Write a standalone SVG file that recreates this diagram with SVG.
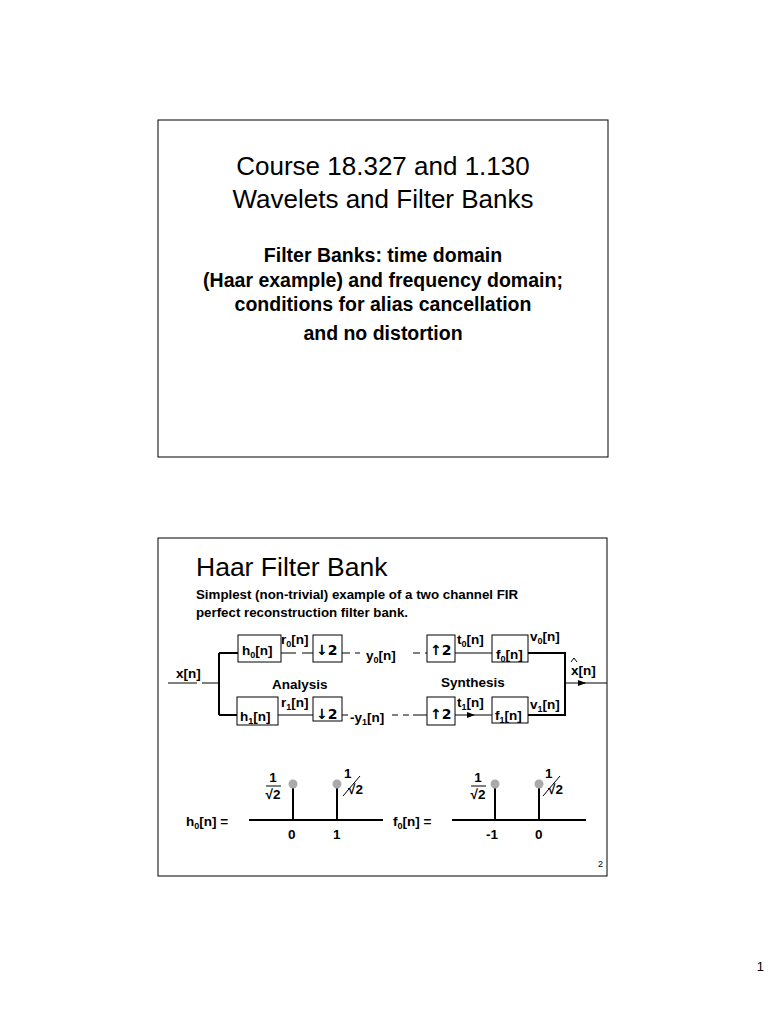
<svg xmlns="http://www.w3.org/2000/svg" width="768" height="1024" viewBox="0 0 768 1024">
<style>
text{font-family:"Liberation Sans",Arial,sans-serif;fill:#000}
.b{font-weight:bold}
.bx{fill:#fff;stroke:#000;stroke-width:1}
.ln{stroke:#000;stroke-width:1;fill:none}
.tk{stroke:#000;stroke-width:2;fill:none}
.lb{font-size:13.5px;font-weight:bold}
.sb{font-size:9px;font-weight:bold}
.arw{font-family:"DejaVu Sans",sans-serif;font-size:14px;font-weight:bold}
</style>
<defs><marker id="ar" markerWidth="8" markerHeight="8" refX="7" refY="4" orient="auto" markerUnits="userSpaceOnUse"><path d="M0,1 L8,4 L0,7 z" fill="#000"/></marker></defs>
<rect width="768" height="1024" fill="#fff"/>
<g id="slide1">
<rect x="158" y="120" width="450" height="337" fill="#fff" stroke="#000"/>
<text x="383" y="175" font-size="26" text-anchor="middle">Course 18.327 and 1.130</text>
<text x="383" y="208" font-size="26" text-anchor="middle">Wavelets and Filter Banks</text>
<text x="383" y="262" font-size="19.5" text-anchor="middle" class="b">Filter Banks: time domain</text>
<text x="383" y="287" font-size="19.5" text-anchor="middle" class="b">(Haar example) and frequency domain;</text>
<text x="383" y="311" font-size="19.5" text-anchor="middle" class="b">conditions for alias cancellation</text>
<text x="383" y="340" font-size="19.5" text-anchor="middle" class="b">and no distortion</text>
</g>
<g id="slide2">
<rect x="158" y="538" width="449" height="338" fill="#fff" stroke="#000"/>
<text x="196" y="576" font-size="26.5">Haar Filter Bank</text>
<text x="196" y="599" font-size="13.3" class="b">Simplest (non-trivial) example of a two channel FIR</text>
<text x="196" y="617" font-size="13.3" class="b">perfect reconstruction filter bank.</text>
<text x="598" y="867" font-size="9">2</text>
</g>
<g id="connectors">
<path class="ln" d="M168,683 H197 M202,683 H219"/>
<path class="tk" d="M219,653 V715 M219,653 H238 M219,715 H237"/>
<path class="ln" d="M281,653 H296 M302,653 H313 M342,653 H350 M355,653 H360 M413,653 H420 M425,653 H432"/>
<path class="ln" d="M455,653 H492"/>
<path class="ln" d="M278,715 H313 M342,715 H348 M392,715 H398 M403,715 H409 M413,715 H427"/>
<path class="ln" d="M455,715 H474" marker-end="url(#ar)"/>
<path class="ln" d="M474,715 H492"/>
<path class="tk" d="M528,653 H565 V715 H528"/>
<path class="ln" d="M565,683 H585" marker-end="url(#ar)"/>
<path class="ln" d="M583,683 H607"/>
</g>
<g id="h0"><rect class="bx" x="238" y="635" width="43" height="27"/><text class="lb" x="242" y="655">h<tspan class="sb" dy="3">0</tspan><tspan dy="-3">[n]</tspan></text></g>
<g id="d0"><rect class="bx" x="313" y="635" width="29" height="27"/><text class="arw" x="316" y="655">↓2</text></g>
<g id="u0"><rect class="bx" x="427" y="635" width="28" height="27"/><text class="arw" x="430" y="655">↑2</text></g>
<g id="f0"><rect class="bx" x="492" y="635" width="36" height="27"/><text class="lb" x="496" y="659">f<tspan class="sb" dy="3">0</tspan><tspan dy="-3">[n]</tspan></text></g>
<g id="h1"><rect class="bx" x="237" y="697" width="41" height="28"/><text class="lb" x="240" y="721">h<tspan class="sb" dy="3">1</tspan><tspan dy="-3">[n]</tspan></text></g>
<g id="d1"><rect class="bx" x="313" y="697" width="29" height="24"/><text class="arw" x="316" y="719">↓2</text></g>
<g id="u1"><rect class="bx" x="427" y="697" width="28" height="28" stroke-width="1.5"/><text class="arw" x="430" y="719">↑2</text></g>
<g id="f1"><rect class="bx" x="492" y="697" width="36" height="26"/><text class="lb" x="495" y="720">f<tspan class="sb" dy="3">1</tspan><tspan dy="-3">[n]</tspan></text></g>
<g id="labels">
<text class="lb" x="176" y="678">x[n]</text>
<text class="lb" x="281" y="644">r<tspan class="sb" dy="3">0</tspan><tspan dy="-3">[n]</tspan></text>
<text class="lb" x="366" y="660">y<tspan class="sb" dy="3">0</tspan><tspan dy="-3">[n]</tspan></text>
<text class="lb" x="457" y="644">t<tspan class="sb" dy="3">0</tspan><tspan dy="-3">[n]</tspan></text>
<text class="lb" x="530" y="641">v<tspan class="sb" dy="3">0</tspan><tspan dy="-3">[n]</tspan></text>
<text class="lb" x="571" y="675">x[n]</text>
<path class="ln" d="M571,662 L574,658 L577,662" stroke-width="1.5"/>
<text class="lb" x="272" y="689">Analysis</text>
<text class="lb" x="441" y="687">Synthesis</text>
<text class="lb" x="281" y="707">r<tspan class="sb" dy="3">1</tspan><tspan dy="-3">[n]</tspan></text>
<text class="lb" x="350" y="722">-y<tspan class="sb" dy="3">1</tspan><tspan dy="-3">[n]</tspan></text>
<text class="lb" x="457" y="707">t<tspan class="sb" dy="3">1</tspan><tspan dy="-3">[n]</tspan></text>
<text class="lb" x="530" y="709">v<tspan class="sb" dy="3">1</tspan><tspan dy="-3">[n]</tspan></text>
</g>
<g id="h0plot">
<text class="lb" x="186" y="826">h<tspan class="sb" dy="3">0</tspan><tspan dy="-3">[n]  =</tspan></text>
<path class="tk" d="M249,820 H383 M293,820 V784 M337,820 V784"/>
<circle cx="293" cy="784" r="4.5" fill="#aaa"/><circle cx="337" cy="784" r="4.5" fill="#aaa"/>
<text class="lb" x="288" y="839">0</text><text class="lb" x="333" y="839">1</text>
<text class="lb" x="273" y="782" text-anchor="middle">1</text>
<path class="ln" d="M266,786 H281"/>
<text class="lb" x="273" y="799" text-anchor="middle">√2</text>
<text class="lb" x="344" y="778">1</text><path class="ln" d="M343,796 L360,776"/><text class="lb" x="348" y="794">√2</text>
</g>
<g id="f0plot">
<text class="lb" x="393" y="826">f<tspan class="sb" dy="3">0</tspan><tspan dy="-3">[n]  =</tspan></text>
<path class="tk" d="M452,820 H586 M495,820 V784 M539,820 V784"/>
<circle cx="495" cy="784" r="4.5" fill="#aaa"/><circle cx="539" cy="784" r="4.5" fill="#aaa"/>
<text class="lb" x="486" y="839">-1</text><text class="lb" x="535" y="839">0</text>
<text class="lb" x="478" y="782" text-anchor="middle">1</text>
<path class="ln" d="M471,786 H486"/>
<text class="lb" x="478" y="799" text-anchor="middle">√2</text>
<text class="lb" x="545" y="778">1</text><path class="ln" d="M543,796 L560,776"/><text class="lb" x="548" y="794">√2</text>
</g>
<text x="764" y="971" font-size="13" font-family="Liberation Serif,serif" text-anchor="end">1</text>
</svg>
